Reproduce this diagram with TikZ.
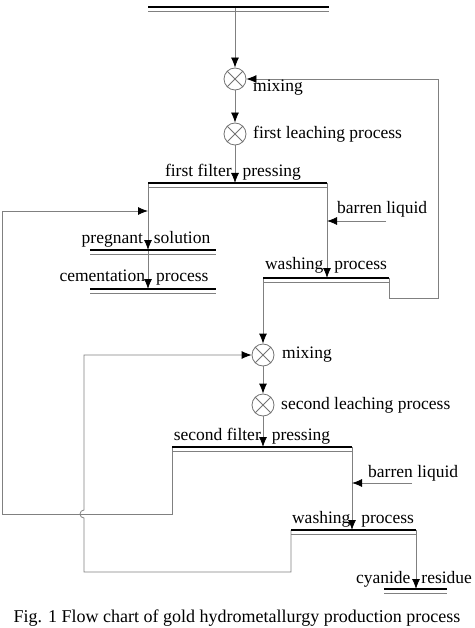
\documentclass[tikz,border=0pt]{standalone}
\usepackage{fontspec}
\setmainfont{Liberation Serif}
\usetikzlibrary{calc}
\usetikzlibrary{arrows.meta}

\tikzset{
  flow/.style={draw=black!50, line width=0.8pt},
  flowarrow/.style={flow, -{Latex[black,length=10pt,width=8pt]}},
  mixer/.style={circle, draw=black!55, line width=0.8pt, minimum size=22pt, inner sep=0pt,
    path picture={\draw[black!55, line width=0.8pt]
      (path picture bounding box.south west) -- (path picture bounding box.north east)
      (path picture bounding box.north west) -- (path picture bounding box.south east);}},
  lbl/.style={font=\fontsize{17.5}{19}\selectfont, inner sep=0pt, anchor=base},
}
\newcommand{\tank}[2]{%
  \draw[line width=2.6pt] (#1) -- (#2);
  \draw[black!50, line width=0.8pt] ([yshift=-4.5pt]#1) -- ([yshift=-4.5pt]#2);
}
\newcommand{\gap}{\hspace{11pt}}

\begin{document}
\begin{tikzpicture}[x=1pt,y=-1pt]
\useasboundingbox (0,0) rectangle (474,628);

% Stations
\coordinate (feedL) at (148,7);
\coordinate (feedR) at (329,7);
\node[mixer] (mixA) at (235,79) {};
\node[mixer] (leachA) at (235,134) {};
\coordinate (filterAL) at (148,183);
\coordinate (filterAR) at (327,183);
\coordinate (pregL) at (90,250);
\coordinate (pregR) at (216,250);
\coordinate (cemL) at (90,289);
\coordinate (cemR) at (216,289);
\coordinate (washAL) at (263,278);
\coordinate (washAR) at (389,278);
\node[mixer] (mixB) at (263,355) {};
\node[mixer] (leachB) at (263,405) {};
\coordinate (filterBL) at (172,447);
\coordinate (filterBR) at (352,447);
\coordinate (washBL) at (291,530);
\coordinate (washBR) at (416,530);
\coordinate (resL) at (384,589);
\coordinate (resR) at (447,589);

% Bends
\coordinate (barrenA) at (386,221);
\coordinate (barrenB) at (412,483);
\coordinate (loopA) at (438,298);
\coordinate (loopB) at (2,514);
\coordinate (inA) at (148,211);
\coordinate (loopC) at (84,572);
\coordinate (hopC) at (84,514);

% First stage
\draw[flowarrow] (feedL -| mixA) -- (mixA);
\draw[flowarrow] (mixA) -- (leachA);
\draw[flowarrow] (leachA) -- (leachA |- filterAL);
\draw[flowarrow] (filterAL) -- (filterAL |- pregL);
\draw[flowarrow] (filterAL |- pregL) -- (filterAL |- cemL);
\draw[flowarrow] (filterAR) -- (filterAR |- washAL);
\draw[flowarrow] (barrenA) -- (barrenA -| filterAR);
\draw[flowarrow] (washAR) |- (loopA) |- (mixA);

% Second stage
\draw[flowarrow] (washAL) -- (mixB);
\draw[flowarrow] (mixB) -- (leachB);
\draw[flowarrow] (leachB) -- (leachB |- filterBL);
\draw[flowarrow] (filterBL) |- (loopB) |- (inA);
\draw[flowarrow] (filterBR) -- (filterBR |- washBL);
\draw[flowarrow] (barrenB) -- (barrenB -| filterBR);
\draw[flowarrow] (washBR) -- (washBR |- resL);
\draw[flowarrow] (washBL) |- (loopC) -- ($(hopC)+(0,4)$)
  arc[start angle=90, end angle=270, radius=4] |- (mixB);

% Bars
\tank{feedL}{feedR}
\tank{filterAL}{filterAR}
\tank{pregL}{pregR}
\tank{cemL}{cemR}
\tank{washAL}{washAR}
\tank{filterBL}{filterBR}
\tank{washBL}{washBR}
\tank{resL}{resR}

% Labels
\node[lbl, anchor=base west] (mixAtext) at (253,92) {mixing};
\node[lbl, anchor=base west] (leachAtext) at (253,139) {first leaching process};
\node[lbl] (filterAtext) at (233,177) {first filter\gap pressing};
\node[lbl, anchor=base west] (barrenAtext) at (337,214) {barren liquid};
\node[lbl] (pregtext) at (146,243) {pregnant\gap solution};
\node[lbl] (cemtext) at (134,281) {cementation\gap process};
\node[lbl] (washAtext) at (326,269) {washing\gap process};
\node[lbl, anchor=base west] (mixBtext) at (282,358) {mixing};
\node[lbl, anchor=base west] (leachBtext) at (281,409) {second leaching process};
\node[lbl] (filterBtext) at (252,440) {second filter\gap pressing};
\node[lbl, anchor=base west] (barrenBtext) at (368,477) {barren liquid};
\node[lbl] (washBtext) at (353,523) {washing\gap process};
\node[lbl] (restext) at (414,583) {cyanide\gap residue};
\node[lbl, font=\fontsize{18}{20}\selectfont] (caption) at (237,622)
  {Fig. 1 Flow chart of gold hydrometallurgy production process};
\end{tikzpicture}
\end{document}
